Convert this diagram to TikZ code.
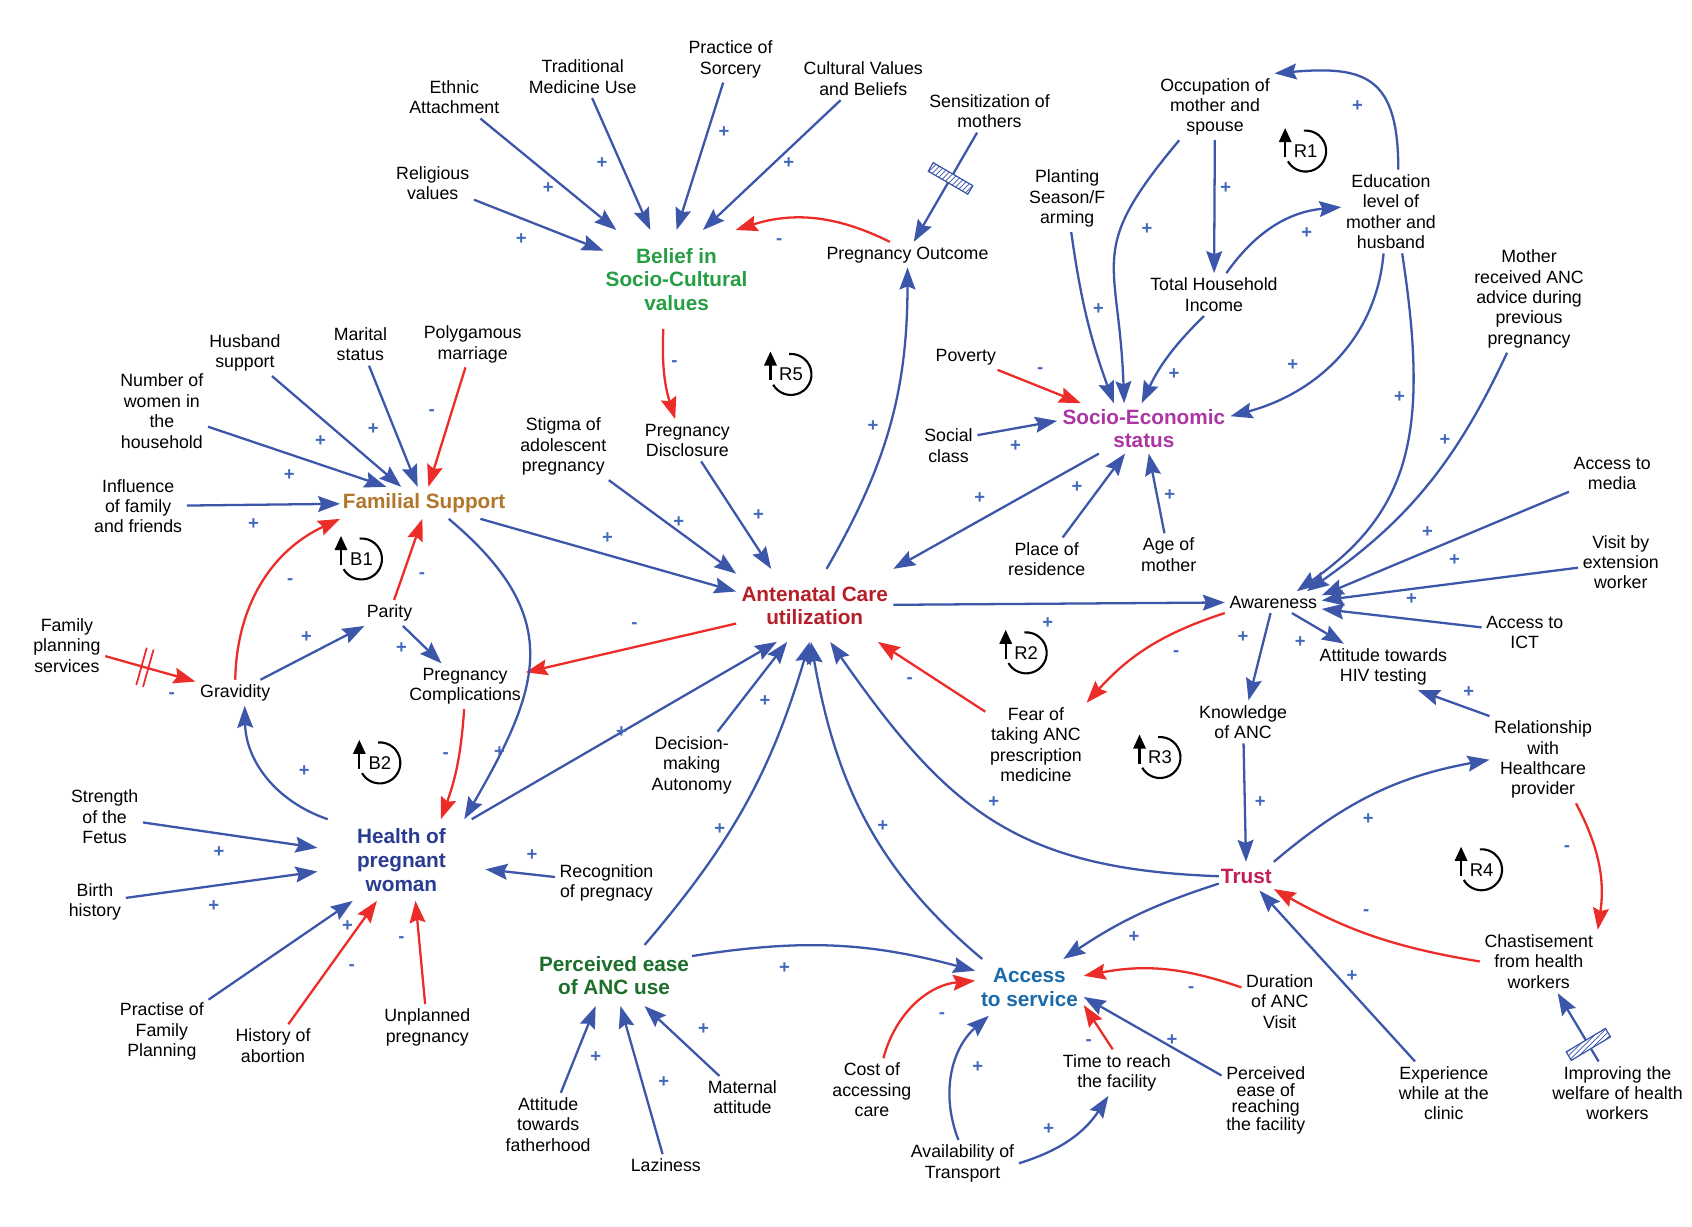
\documentclass[tikz,border=0pt]{standalone}
\usepackage{fontspec}
\setmainfont{Liberation Sans}
\usetikzlibrary{arrows.meta,decorations.markings,patterns}
\definecolor{cblue}{RGB}{60,86,170}
\definecolor{cred}{RGB}{236,44,40}
\definecolor{csign}{RGB}{66,104,188}
\definecolor{cbelief}{RGB}{38,158,68}
\definecolor{cfs}{RGB}{178,118,42}
\definecolor{canc}{RGB}{182,30,40}
\definecolor{cses}{RGB}{172,54,164}
\definecolor{chealth}{RGB}{40,60,146}
\definecolor{cpe}{RGB}{28,110,42}
\definecolor{cacc}{RGB}{26,106,170}
\definecolor{ctrust}{RGB}{196,30,88}
\newcommand{\loopsym}[1]{%
  \draw[line width=1.2pt] ([shift={(95:0.41cm)}]#1.center) arc[start angle=95,end angle=-150,radius=0.41cm];
  \draw[line width=1.3pt,-{Triangle[length=8pt,width=7pt]}] ([shift={(-0.41cm,-0.12cm)}]#1.center) -- ([shift={(-0.41cm,0.46cm)}]#1.center);}
\begin{document}
\begin{tikzpicture}[x=0.021582cm,y=-0.021582cm,
  lab/.style={font=\fontsize{10.1}{11.6}\selectfont,align=center,inner sep=2.5pt},
  key/.style={font=\bfseries\fontsize{11.8}{13.4}\selectfont,align=center,inner sep=1pt},
  looplab/.style={font=\fontsize{10.5}{12}\selectfont,inner sep=0pt},
  pa/.style={draw=cblue,line width=1.3pt,-{Stealth[length=12.5pt,width=9pt,inset=1.8pt]}},
  na/.style={draw=cred,line width=1.3pt,-{Stealth[length=12.5pt,width=9pt,inset=1.8pt]}},
  plus/.style={text=csign,font=\bfseries\fontsize{10.5}{10.5}\selectfont,inner sep=0pt},
  minus/.style={text=csign,font=\bfseries\fontsize{10.5}{10.5}\selectfont,inner sep=0pt},
  delayB/.style={postaction={decorate,decoration={markings,mark=at position #1 with {\draw[-,cblue,line width=0.7pt,fill=white] (-2.8pt,-13pt) rectangle (2.8pt,13pt); \path[pattern=north east lines,pattern color=cblue] (-2.8pt,-13pt) rectangle (2.8pt,13pt);}}}},
  delayR/.style={postaction={decorate,decoration={markings,mark=at position #1 with {\draw[-,cred,line width=1pt] (-2pt,-11pt)--(-2pt,11pt) (2pt,-11pt)--(2pt,11pt);}}}},
]
\path[use as bounding box,fill=white] (0,0) rectangle (1568,1137);

% ---------- nodes ----------
\node[lab] (eth) at (421,90) {Ethnic\\Attachment};
\node[lab] (trad) at (540,71) {Traditional\\Medicine Use};
\node[lab] (sorc) at (677,55) {Practice of\\Sorcery};
\node[lab] (cult) at (800,73) {Cultural Values\\and Beliefs};
\node[lab] (sens) at (917,103) {Sensitization of\\mothers};
\node[lab] (relig) at (401,170) {Religious\\values};
\node[key,text=cbelief,minimum width=2.892cm,minimum height=1.964cm] (belief) at (627,259) {Belief in\\Socio-Cultural\\values};
\node[lab] (pout) at (841,236) {Pregnancy Outcome};
\node[lab] (occ) at (1126,99) {Occupation of\\mother and\\spouse};
\node[lab] (edu) at (1289,196) {Education\\level of\\mother and\\husband};
\node[lab] (plant) at (989,184) {Planting\\Season/F\\arming};
\node[lab] (thi) at (1125,273) {Total Household\\Income};
\node[lab] (mra) at (1417,277) {Mother\\received ANC\\advice during\\previous\\pregnancy};
\node[lab] (pov) at (895,331) {Poverty};
\node[key,text=cses,minimum width=3.453cm,minimum height=0.993cm] (ses) at (1060,397) {Socio-Economic\\status};
\node[lab] (soc) at (879,413) {Social\\class};
\node[lab] (place) at (970,518) {Place of\\residence};
\node[lab] (age) at (1083,514) {Age of\\mother};
\node[lab] (media) at (1494,439) {Access to\\media};
\node[lab] (visit) at (1502,521) {Visit by\\extension\\worker};
\node[lab] (ict) at (1413,586) {Access to\\ICT};
\node[lab] (aware) at (1180,558) {Awareness};
\node[lab] (hiv) at (1282,618) {Attitude towards\\HIV testing};
\node[lab] (know) at (1152,669) {Knowledge\\of ANC};
\node[lab] (rel) at (1430,704) {Relationship\\with\\Healthcare\\provider};
\node[lab] (fear) at (960,690) {Fear of\\taking ANC\\prescription\\medicine};
\node[key,text=ctrust,minimum width=1.058cm,minimum height=0.561cm] (trust) at (1155,812) {Trust};
\node[lab] (chast) at (1426,891) {Chastisement\\from health\\workers};
\node[lab] (welf) at (1499,1013) {Improving the\\welfare of health\\workers};
\node[lab] (exp) at (1338,1013) {Experience\\while at the\\clinic};
\node[lab] (dur) at (1186,928) {Duration\\of ANC\\Visit};
\node[lab,font=\fontsize{10.1}{9.4}\selectfont] (pear) at (1173,1020) {Perceived\\ease of\\reaching\\the facility};
\node[lab] (time) at (1035,994) {Time to reach\\the facility};
\node[key,text=cacc,minimum width=2.158cm,minimum height=1.122cm] (acc) at (954,915) {Access\\to service};
\node[lab] (cost) at (808,1010) {Cost of\\accessing\\care};
\node[lab] (avail) at (892,1078) {Availability of\\Transport};
\node[key,text=cpe,minimum width=3.108cm,minimum height=1.209cm] (peanc) at (569,904) {Perceived ease\\of ANC use};
\node[lab] (fath) at (508,1042) {Attitude\\towards\\fatherhood};
\node[lab] (lazy) at (617,1080) {Laziness};
\node[lab] (mat) at (688,1017) {Maternal\\attitude};
\node[key,text=canc,minimum width=3.129cm,minimum height=1.446cm] (anc) at (755,561) {Antenatal Care\\utilization};
\node[lab] (stig) at (522,414) {Stigma of\\adolescent\\pregnancy};
\node[lab] (pdis) at (637,408) {Pregnancy\\Disclosure};
\node[lab] (dec) at (641,709) {Decision-\\making\\Autonomy};
\node[key,text=cfs,minimum width=3.345cm,minimum height=0.626cm] (fs) at (393,466) {Familial Support};
\node[lab] (husb) at (227,327) {Husband\\support};
\node[lab] (marital) at (334,319) {Marital\\status};
\node[lab] (poly) at (438,319) {Polygamous\\marriage};
\node[lab] (numw) at (150,381) {Number of\\women in\\the\\household};
\node[lab] (infl) at (128,469) {Influence\\of family\\and friends};
\node[lab] (parity) at (361,568) {Parity};
\node[lab] (grav) at (218,642) {Gravidity};
\node[lab] (fps) at (62,598) {Family\\planning\\services};
\node[lab] (pcomp) at (431,636) {Pregnancy\\Complications};
\node[key,text=chealth,minimum width=3.345cm,minimum height=1.619cm] (health) at (372,797) {Health of\\pregnant\\woman};
\node[lab] (fetus) at (97,757) {Strength\\of the\\Fetus};
\node[lab] (birth) at (88,836) {Birth\\history};
\node[lab] (recog) at (562,818) {Recognition\\of pregnacy};
\node[lab] (pfp) at (150,956) {Practise of\\Family\\Planning};
\node[lab] (abort) at (253,969) {History of\\abortion};
\node[lab] (unpl) at (396,952) {Unplanned\\pregnancy};

% ---------- loop markers ----------
\node[looplab] (R1) at (1210,140) {R1};
\node[looplab] (R5) at (733,347) {R5};
\node[looplab] (B1) at (335,518) {B1};
\node[looplab] (B2) at (352,707) {B2};
\node[looplab] (R2) at (951,605) {R2};
\node[looplab] (R3) at (1075,702) {R3};
\node[looplab] (R4) at (1373,806) {R4};
\loopsym{R1}\loopsym{R5}\loopsym{B1}\loopsym{B2}\loopsym{R2}\loopsym{R3}\loopsym{R4}

% ---------- connectors ----------
\draw[pa] (eth) -- (belief);
\draw[pa] (relig) -- (belief);
\draw[pa] (trad) -- (belief.118);
\draw[pa] (sorc) -- (belief.north);
\draw[pa] (cult) -- (belief.62);
\draw[pa,delayB=0.42] (sens) -- (pout.64);
\draw[na] (pout.144) to[bend right=22] (belief.40);
\draw[na] (belief.-105) to[bend right=10] (pdis.120);

\draw[pa] (pdis) -- (anc.140);
\draw[pa] (stig) -- (anc.158);
\draw[pa] (fs) -- (anc.170);
\draw[pa] (anc.72) to[bend right=15] (pout.south);
\draw[pa] (ses) -- (anc.north east);

\draw[pa] (soc.20) -- (ses.175);
\draw[pa] (place) -- (ses);
\draw[pa] (age) -- (ses);
\draw[na] (pov) -- (ses);
\draw[pa] (plant) to[bend right=6] (ses.140);
\draw[pa] (occ.-137) to[out=-130,in=92,looseness=1.4] (ses.128);
\draw[pa] (occ) -- (thi);
\draw[pa] (thi.60) to[bend left=25] (edu.175);
\draw[pa] (thi.-115) to[bend right=10] (ses.95);
\draw[pa] (edu.80) to[out=90,in=5,looseness=1.5] (occ.north east);
\draw[pa] (edu.-100) to[out=-95,in=15] (ses.8);
\draw[pa] (edu.-75) .. controls +(25,163) and +(107,-75) .. (aware.25);

\draw[pa] (mra) to[bend left=15] (aware.18);
\draw[pa] (media) -- (aware.8);
\draw[pa] (visit) -- (aware.2);
\draw[pa] (ict) -- (aware.-8);
\draw[pa] (anc) -- (aware);
\draw[na] (aware.south west) to[bend right=15] (fear.north east);
\draw[na] (fear) -- (anc.-30);
\draw[pa] (aware) -- (know);
\draw[pa] (aware) -- (hiv);
\draw[pa] (rel.north west) -- (hiv.-34);
\draw[pa] (know) -- (trust);
\draw[pa] (trust.north east) to[bend left=15] (rel.west);
\draw[na] (rel.-53) to[bend left=18] (chast.north east);
\draw[na] (chast.west) to[bend left=10] (trust.-25);
\draw[pa,delayB=0.25] (welf) -- (chast);
\draw[pa] (exp) -- (trust);
\draw[pa] (trust.west) to[out=178,in=-55,looseness=1.15] (anc.-67);
\draw[pa] (trust.-165) to[bend right=8] (acc.40);

\draw[na] (dur.160) to[bend right=15] (acc.12);
\draw[pa] (pear) -- (acc.-10);
\draw[na] (time.100) -- (acc.-18);
\draw[pa] (avail.100) to[bend left=35] (acc.-145);
\draw[pa] (avail.east) to[bend right=20] (time.-110);
\draw[na] (cost.70) to[bend left=35] (acc.173);
\draw[pa] (peanc.14) to[bend left=12] (acc.163);
\draw[pa] (acc.149) to[out=140,in=-80] (anc.-96);
\draw[pa] (peanc.45) to[bend right=12] (anc.-98);
\draw[pa] (dec) -- (anc.-127);
\draw[pa] (health) -- (anc.-136);
\draw[na] (anc) -- (pcomp);

\draw[pa] (fath) -- (peanc.-121);
\draw[pa] (lazy) -- (peanc.-78);
\draw[pa] (mat) -- (peanc.-45);

\draw[na] (poly) -- (fs.75);
\draw[pa] (marital) -- (fs.112);
\draw[pa] (husb) -- (fs.145);
\draw[pa] (numw) -- (fs.157);
\draw[pa] (infl) -- (fs);
\draw[na] (grav.north) to[bend left=32] (fs.south west);
\draw[na] (parity) -- (fs.-96);
\draw[pa] (grav) -- (parity);
\draw[pa] (parity) -- (pcomp);
\draw[na,delayR=0.44] (fps) -- (grav);
\draw[na] (pcomp) to[bend left=8] (health.46);
\draw[pa] (fs.-33) to[out=-40,in=60,looseness=1.3] (health.33);
\draw[pa] (health.151) to[bend left=35] (grav.-54);

\draw[pa] (fetus) -- (health);
\draw[pa] (birth) -- (health);
\draw[pa] (pfp) -- (health.-140);
\draw[na] (abort) -- (health.-121);
\draw[na] (unpl) -- (health.-71);
\draw[pa] (recog) -- (health);

% ---------- polarity signs ----------
\foreach \x/\y [count=\i] in {508/174,483/222,558/151,671/122,731/151,703/477,629/484,563/499,809/395,908/462,941/413,998/451,1084/459,1018/286,1063/212,1136/174,1211/216,1088/347,1258/98,1198/338,1297/368,1339/408,1323/493,1348/519,1308/555,971/577,1152/590,1205/595,1361/641,1168/743,1268/759,1253/905,921/743,1051/868,1086/964,906/989,972/1046,727/897,818/766,667/768,709/650,576/678,463/697,346/398,297/409,268/440,235/486,284/590,372/601,282/715,203/790,198/840,322/858,493/792,552/980,615/1003,652/954}
  {\node[plus] (p\i) at (\x,\y) {+};}
\foreach \x/\y [count=\i] in {722/224,625/337,964/343,1090/606,843/631,1452/786,1266/846,1104/917,1009/966,873/941,588/580,400/382,269/539,391/533,159/645,413/700,326/897,372/871}
  {\node[minus] (m\i) at (\x,\y) {-};}
\end{tikzpicture}
\end{document}
